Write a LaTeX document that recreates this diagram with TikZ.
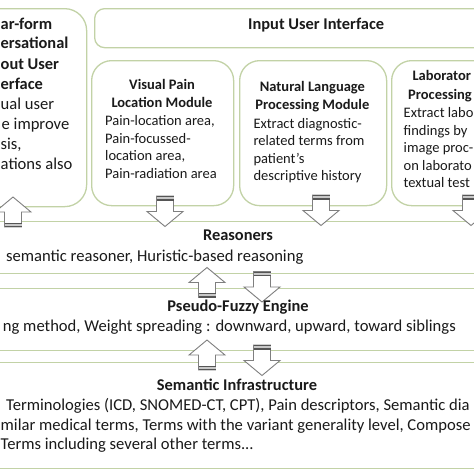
\documentclass[tikz,border=0pt]{standalone}
\usepackage{fontspec}
\setmainfont{Carlito}
\definecolor{lineg}{HTML}{C2D2A6}
\definecolor{arrgray}{HTML}{7F7F7F}
\definecolor{bardark}{HTML}{555555}
\definecolor{barlight}{HTML}{C8C8C8}
\definecolor{txt}{HTML}{1A1A1A}
\tikzset{
  boxline/.style={draw=lineg, line width=1.3pt, fill=none, inner sep=0pt, anchor=north west},
  tA/.style={font=\fontsize{16.6}{20}\selectfont, inner sep=0pt, text=txt},
  tAb/.style={font=\fontsize{16.4}{20}\selectfont\bfseries, inner sep=0pt, text=txt},
  tB/.style={font=\fontsize{14.5}{17.6}\selectfont, inner sep=0pt, text=txt},
  tBb/.style={font=\fontsize{14.5}{17.6}\selectfont\bfseries, inner sep=0pt, text=txt},
  arrline/.style={draw=arrgray, fill=white, line width=0.9pt, line join=miter},
  downarr/.pic={
    \draw[arrline] (-8.5,0) -- (-8.5,15.5) -- (-18,15.5) -- (0,30.5) -- (18,15.5) -- (8.5,15.5) -- (8.5,0) -- cycle;
    \fill[barlight] (-8.5,0) rectangle (8.5,4.5);
    \draw[bardark, line width=1.2pt] (-8.5,0.6) -- (8.5,0.6);
    \draw[bardark, line width=1.2pt] (-8.5,3.9) -- (8.5,3.9);
  },
  uparr/.pic={
    \draw[arrline] (-8.5,0) -- (-8.5,-15) -- (-18,-15) -- (0,-30) -- (18,-15) -- (8.5,-15) -- (8.5,0) -- cycle;
    \fill[barlight] (-8.5,0) rectangle (8.5,-4.5);
    \draw[bardark, line width=1.2pt] (-8.5,-0.6) -- (8.5,-0.6);
    \draw[bardark, line width=1.2pt] (-8.5,-3.9) -- (8.5,-3.9);
  }
}
\begin{document}
\begin{tikzpicture}[x=1pt,y=-1pt]
\useasboundingbox (0,0) rectangle (474,474);
\fill[white] (0,0) rectangle (474,474);
\clip (0,0) rectangle (474,474);

% boxes
\node[boxline, rounded corners=22pt, minimum width=146pt, minimum height=198pt] (leftbox) at (-60,8) {};
\node[boxline, rounded corners=10pt, minimum width=466pt, minimum height=39pt] (hdrbox) at (94,8) {};
\node[boxline, rounded corners=20pt, minimum width=142pt, minimum height=145pt] (vpbox) at (91,60) {};
\node[boxline, rounded corners=20pt, minimum width=147pt, minimum height=145pt] (nlpbox) at (239,60) {};
\node[boxline, rounded corners=20pt, minimum width=169pt, minimum height=145pt] (labbox) at (391,60) {};
\node[boxline, minimum width=534pt, minimum height=52pt] (reabox) at (-30,221) {};
\node[boxline, minimum width=534pt, minimum height=62pt] (pfbox) at (-30,288) {};
\node[boxline, minimum width=534pt, minimum height=106pt] (sembox) at (-30,362) {};

% block arrows
\pic (a1) at (13,227) {uparr};
\pic (a2) at (165,196) {downarr};
\pic (a3) at (321,195) {downarr};
\pic (a4) at (471,195) {downarr};
\pic (a5) at (207,297.5) {uparr};
\pic (a6) at (262,271.5) {downarr};
\pic (a7) at (207,370) {uparr};
\pic (a8) at (262,345) {downarr};

% left box text
\node[tAb, anchor=mid west] (l1) at (0.5,27) {ar-form};
\node[tAb, anchor=mid west] (l2) at (0.5,46) {ersational};
\node[tAb, anchor=mid west] (l3) at (0.5,67) {out User};
\node[tAb, anchor=mid west] (l4) at (0.5,87) {erface};
\node[tA, anchor=mid west] (l5) at (0.5,107) {ual user};
\node[tA, anchor=mid west] (l6) at (1.5,127.5) {e improve};
\node[tA, anchor=mid west] (l7) at (0.5,147) {sis,};
\node[tA, anchor=mid west] (l8) at (0.5,167) {ations also};

% header
\node[tAb, anchor=mid west] (hdr) at (248,27) {Input User Interface};

% visual pain
\node[tBb, anchor=mid] (vp1) at (162,87) {Visual Pain};
\node[tBb, anchor=mid] (vp2) at (162,105) {Location Module};
\node[tB, anchor=mid west] (vp3) at (105,123.3) {Pain-location area,};
\node[tB, anchor=mid west] (vp4) at (105,140.7) {Pain-focussed-};
\node[tB, anchor=mid west] (vp5) at (105,158.3) {location area,};
\node[tB, anchor=mid west] (vp6) at (105,175.7) {Pain-radiation area};

% NLP
\node[tBb, anchor=mid] (nl1) at (312.4,89.3) {Natural Language};
\node[tBb, anchor=mid] (nl2) at (312.4,106.7) {Processing Module};
\node[tB, anchor=mid west] (nl3) at (253.3,126) {Extract diagnostic-};
\node[tB, anchor=mid west] (nl4) at (253.3,143.3) {related terms from};
\node[tB, anchor=mid west] (nl5) at (253.3,161) {patient’s};
\node[tB, anchor=mid west] (nl6) at (253.3,178.3) {descriptive history};

% Lab
\node[tBb, anchor=mid west] (lb1) at (412.3,78.3) {Laborator};
\node[tBb, anchor=mid west] (lb2) at (408,96.7) {Processing};
\node[tB, anchor=mid west] (lb3) at (403.5,115) {Extract labo};
\node[tB, anchor=mid west] (lb4) at (403.5,132.7) {findings by};
\node[tB, anchor=mid west] (lb5) at (403.5,150) {image proc-};
\node[tB, anchor=mid west] (lb6) at (403.5,167.7) {on laborato};
\node[tB, anchor=mid west] (lb7) at (403.5,185) {textual test};

% Reasoners
\node[tAb, anchor=mid] (r1) at (238,238) {Reasoners};
\node[tA, anchor=mid west] (r2) at (6,259.3) {semantic reasoner, Huristic-based reasoning};

% Pseudo-fuzzy
\node[tAb, anchor=mid] (p1) at (238,309.3) {Pseudo-Fuzzy Engine};
\node[tA, anchor=mid east] (p2) at (456,329.3) {ng method, Weight spreading : downward, upward, toward siblings};

% Semantic
\node[tAb, anchor=mid] (s1) at (237,387.7) {Semantic Infrastructure};
\node[tA, anchor=mid west] (s2) at (6,407.7) {Terminologies (ICD, SNOMED-CT, CPT), Pain descriptors, Semantic dia};
\node[tA, anchor=mid west] (s3) at (0.5,427.7) {milar medical terms, Terms with the variant generality level, Compose};
\node[tA, anchor=mid west] (s4) at (0.5,447.3) {Terms including several other terms...};
\end{tikzpicture}
\end{document}
